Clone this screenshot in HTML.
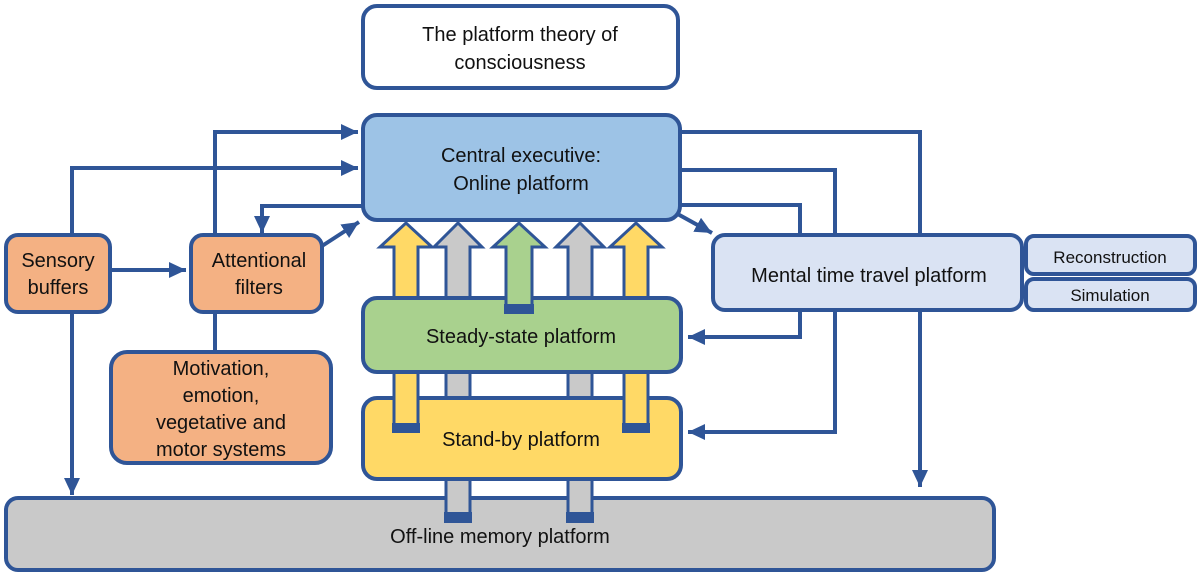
<!DOCTYPE html>
<html><head><meta charset="utf-8"><style>
html,body{margin:0;padding:0;background:#fff;}
svg{display:block;font-family:"Liberation Sans",Arial,sans-serif;}
</style></head><body>
<svg width="1200" height="578" viewBox="0 0 1200 578" xmlns="http://www.w3.org/2000/svg">
<defs>
<marker id="ah" markerWidth="18" markerHeight="18" refX="17" refY="8" orient="auto" markerUnits="userSpaceOnUse">
<path d="M0,0 L17,8 L0,16 z" fill="#2f5597"/>
</marker>
</defs>
<g stroke="#2f5597" stroke-width="4" fill="none">
<rect x="6" y="498" width="988" height="72" rx="12" fill="#c9c9c9"/>
<rect x="363" y="6" width="315" height="82" rx="14" fill="#fff"/>
<polyline points="215,235 215,132 358,132" marker-end="url(#ah)"/>
<polyline points="72,235 72,168 358,168" marker-end="url(#ah)"/>
<polyline points="364,206 262,206 262,233" marker-end="url(#ah)"/>
<line x1="322" y1="246" x2="359" y2="222" marker-end="url(#ah)"/>
<line x1="110" y1="270" x2="186" y2="270" marker-end="url(#ah)"/>
<line x1="215" y1="312" x2="215" y2="352"/>
<line x1="72" y1="312" x2="72" y2="495" marker-end="url(#ah)"/>
<polyline points="680,132 920,132 920,487" marker-end="url(#ah)"/>
<polyline points="680,170 835,170 835,432 688,432" marker-end="url(#ah)"/>
<polyline points="680,205 800,205 800,235"/>
<polyline points="800,310 800,337 688,337" marker-end="url(#ah)"/>
<line x1="674" y1="212" x2="712" y2="233" marker-end="url(#ah)"/>
</g>
<g stroke="#2f5597" stroke-width="3" stroke-linejoin="miter">
<polygon points="446,518 446,247 434,247 458,223 482,247 470,247 470,518" fill="#c9c9c9"/>
<polygon points="568,518 568,247 556,247 580,223 604,247 592,247 592,518" fill="#c9c9c9"/>
</g>
<g fill="#2f5597">
<rect x="444" y="512" width="28" height="11"/>
<rect x="566" y="512" width="28" height="11"/>
</g>
<g stroke="#2f5597" stroke-width="4">
<rect x="363" y="115" width="317" height="105" rx="14" fill="#9dc3e6"/>
</g>
<g stroke="#2f5597" stroke-width="3">
<polygon points="394,428 394,247 380,247 406,223 432,247 418,247 418,428" fill="#ffd966"/>
<polygon points="624,428 624,247 610,247 636,223 662,247 648,247 648,428" fill="#ffd966"/>
</g>
<g stroke="#2f5597" stroke-width="4">
<rect x="363" y="398" width="318" height="81" rx="14" fill="#ffd966"/>
</g>
<rect x="395" y="396" width="22" height="32" fill="#ffd966"/>
<rect x="625" y="396" width="22" height="32" fill="#ffd966"/>
<g stroke="#2f5597" stroke-width="3">
<line x1="394" y1="396" x2="394" y2="428"/>
<line x1="418" y1="396" x2="418" y2="428"/>
<line x1="624" y1="396" x2="624" y2="428"/>
<line x1="648" y1="396" x2="648" y2="428"/>
</g>
<g fill="#2f5597">
<rect x="392" y="423" width="28" height="10"/>
<rect x="622" y="423" width="28" height="10"/>
</g>
<g stroke="#2f5597" stroke-width="4">
<rect x="363" y="298" width="318" height="74" rx="14" fill="#a9d18e"/>
</g>
<g stroke="#2f5597" stroke-width="3">
<polygon points="506,310 506,247 493,247 519,223 545,247 532,247 532,310" fill="#a9d18e"/>
</g>
<rect x="504" y="304" width="30" height="10" fill="#2f5597"/>
<g stroke="#2f5597" stroke-width="4">
<rect x="6" y="235" width="104" height="77" rx="12" fill="#f4b183"/>
<rect x="191" y="235" width="131" height="77" rx="12" fill="#f4b183"/>
<rect x="111" y="352" width="220" height="111" rx="16" fill="#f4b183"/>
<rect x="713" y="235" width="309" height="75" rx="12" fill="#dae3f3"/>
<rect x="1026" y="236" width="169" height="38" rx="8" fill="#dae3f3"/>
<rect x="1026" y="279" width="169" height="31" rx="8" fill="#dae3f3"/>
</g>
<g fill="#111" text-anchor="middle" font-size="20">
<text x="520" y="41">The platform theory of</text>
<text x="520" y="69">consciousness</text>
<text x="521" y="162">Central executive:</text>
<text x="521" y="190">Online platform</text>
<text x="521" y="343">Steady-state platform</text>
<text x="521" y="446">Stand-by platform</text>
<text x="500" y="543">Off-line memory platform</text>
<text x="58" y="267">Sensory</text>
<text x="58" y="294">buffers</text>
<text x="259" y="267">Attentional</text>
<text x="259" y="294">filters</text>
<text x="221" y="375">Motivation,</text>
<text x="221" y="402">emotion,</text>
<text x="221" y="429">vegetative and</text>
<text x="221" y="456">motor systems</text>
<text x="869" y="282">Mental time travel platform</text>
<text x="1110" y="263" font-size="17">Reconstruction</text>
<text x="1110" y="301" font-size="17">Simulation</text>
</g>
</svg>
</body></html>
